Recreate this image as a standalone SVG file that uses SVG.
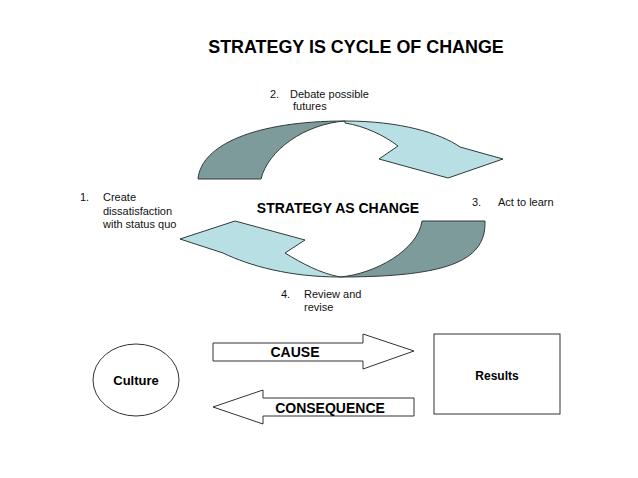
<svg xmlns="http://www.w3.org/2000/svg" width="638" height="478" viewBox="0 0 638 478">
<style>
text{font-family:"Liberation Sans",Arial,sans-serif;fill:#000}
.b{font-weight:bold}
.s{font-size:11px;fill:#111}
.dark{fill:#7e9b9c;stroke:#2f3a3a;stroke-width:1}
.light{fill:#b8e0e4;stroke:#2f3a3a;stroke-width:1}
.box{fill:#fff;stroke:#333;stroke-width:1}
</style>
<rect width="638" height="478" fill="#fff"/>
<g id="title"><text class="b" x="356" y="53" font-size="17.9" text-anchor="middle">STRATEGY IS CYCLE OF CHANGE</text></g>
<g id="cycle">
<path class="dark" d="M198,179 C201,145 255,121 345,121 C305,124 268,150 261,179 Z"/>
<path class="light" d="M345,121 C400,121 440,133 460,147 L503,159 L448,178 L379,159 L398,146 C385,136 365,126 345,123 Z"/>
<path class="dark" d="M485,221 C486,258 455,277 340,277 C375,274 418,250 422,221 Z"/>
<path class="light" d="M340,277 C290,277 250,266 223,253 L180,239 L235,221 L305,240 L285,253 C303,264 320,273 340,277 Z"/>
<text class="b" x="338" y="213" font-size="14" text-anchor="middle">STRATEGY AS CHANGE</text>
</g>
<g id="step1">
<text class="s" x="80" y="201">1.</text>
<text class="s" x="103" y="201">Create</text>
<text class="s" x="103" y="215">dissatisfaction</text>
<text class="s" x="103" y="228">with status quo</text>
</g>
<g id="step2">
<text class="s" x="270" y="98">2.</text>
<text class="s" x="290" y="98">Debate possible</text>
<text class="s" x="293" y="110">futures</text>
</g>
<g id="step3">
<text class="s" x="472" y="206">3.</text>
<text class="s" x="498" y="206">Act to learn</text>
</g>
<g id="step4">
<text class="s" x="281" y="298">4.</text>
<text class="s" x="304" y="298">Review and</text>
<text class="s" x="304" y="311">revise</text>
</g>
<g id="culture">
<ellipse class="box" cx="136" cy="380" rx="43" ry="36"/>
<text class="b" x="136" y="385" font-size="13" text-anchor="middle">Culture</text>
</g>
<g id="results">
<rect class="box" x="434" y="334" width="126" height="80"/>
<text class="b" x="497" y="380" font-size="12" text-anchor="middle">Results</text>
</g>
<g id="connectors">
<g id="cause">
<path class="box" d="M213,343 L363,343 L363,334 L414,351 L363,369 L363,361 L213,361 Z"/>
<text class="b" x="295" y="357" font-size="14" text-anchor="middle">CAUSE</text>
</g>
<g id="consequence">
<path class="box" d="M213,407 L263,390 L263,398 L414,398 L414,416 L263,416 L263,424 Z"/>
<text class="b" x="330" y="413" font-size="14" text-anchor="middle">CONSEQUENCE</text>
</g>
</g>
</svg>
